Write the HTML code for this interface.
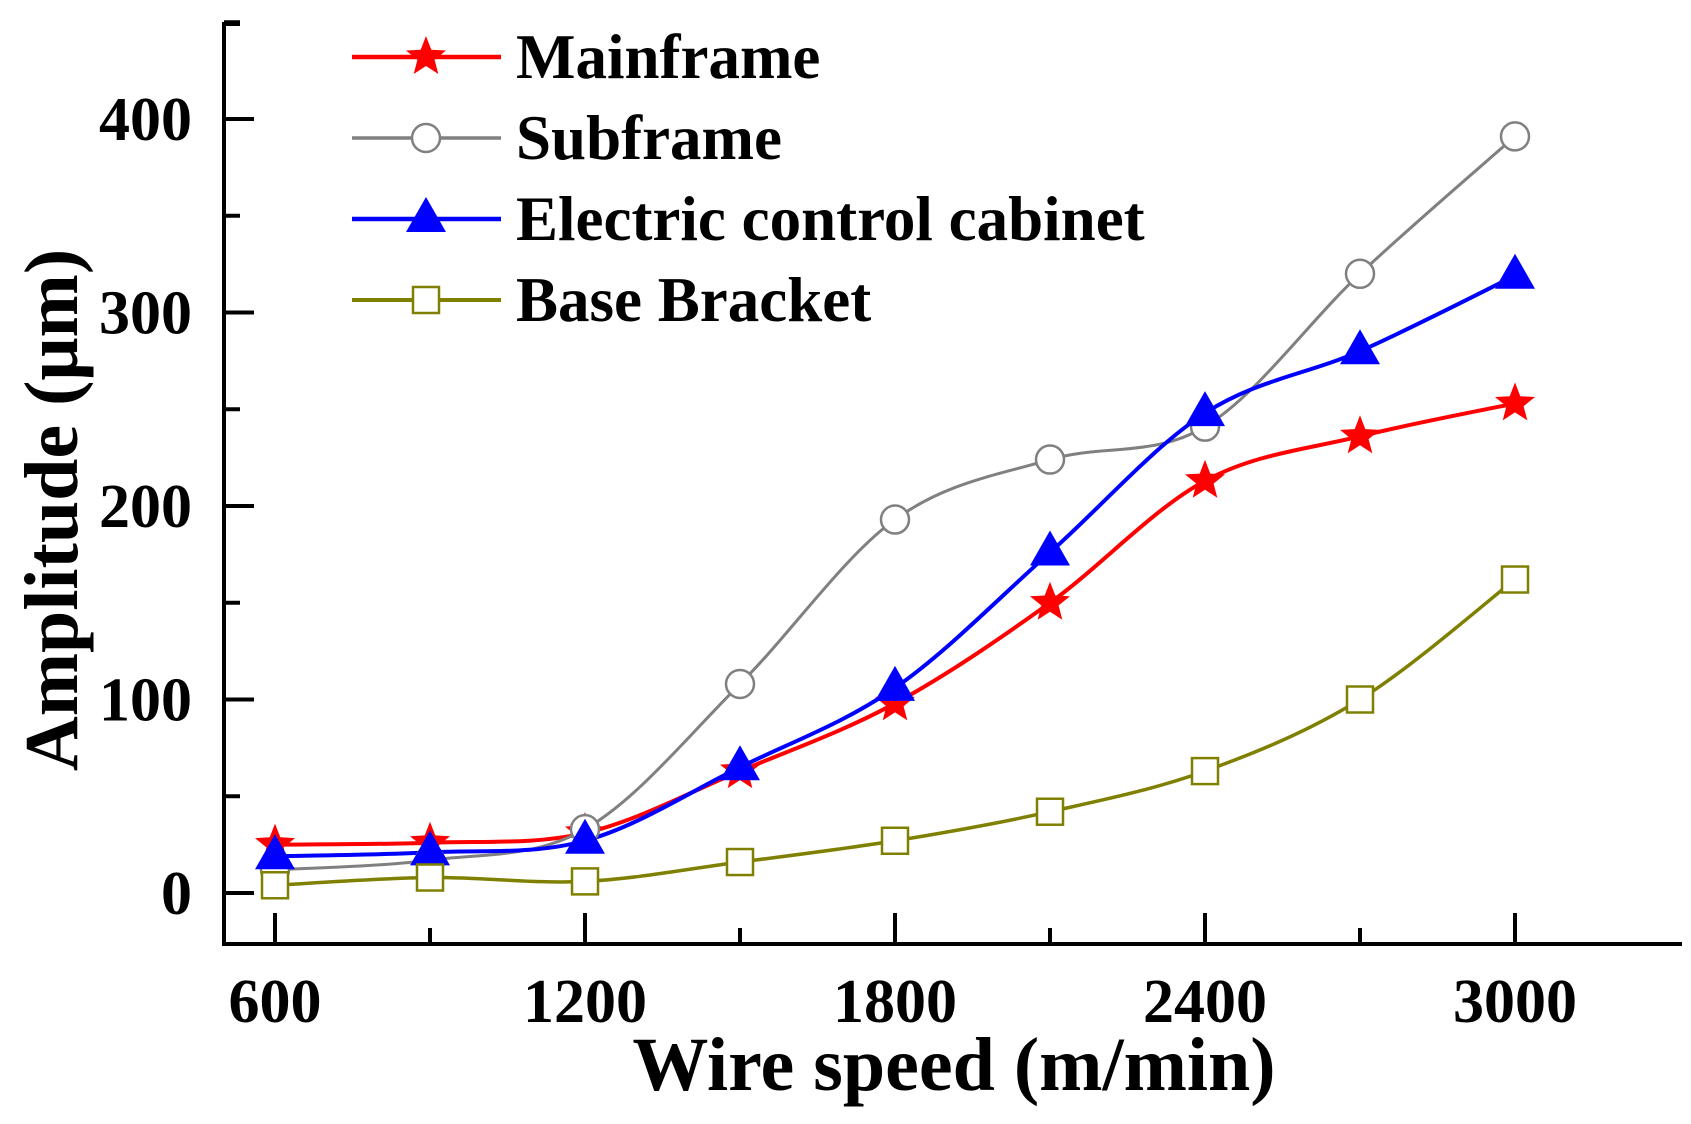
<!DOCTYPE html>
<html><head><meta charset="utf-8"><style>
html,body{margin:0;padding:0;background:#fff;}
svg{display:block;font-family:"Liberation Serif",serif;font-weight:bold;}
</style></head><body>
<svg id="s" width="1691" height="1124" viewBox="0 0 1691 1124" xmlns="http://www.w3.org/2000/svg">
<rect width="1691" height="1124" fill="#fff"/>
<g id="axes" stroke="#000" stroke-width="4" fill="none">
<path d="M224,22 L224,944 L1682,944"/>
<path d="M224,24 L240,24"/>
</g>
<g id="lab" fill="#000"></g>
<g id="series"></g>
<text x="954" y="1090" font-size="76" text-anchor="middle" fill="#000">Wire speed (m/min)</text>
<text transform="translate(77,510) rotate(-90)" font-size="76" text-anchor="middle" fill="#000">Amplitude (μm)</text>
</svg>
<script>
var NS="http://www.w3.org/2000/svg";
function X(v){return 275+(v-600)/300*155;}
function Y(v){return 893-v*1.935;}
function el(t,a,p){var e=document.createElementNS(NS,t);for(var k in a)e.setAttribute(k,a[k]);p.appendChild(e);return e;}
var ax=document.getElementById('axes'),lab=document.getElementById('lab'),ser=document.getElementById('series');
// y ticks
for(var v=0;v<=450;v+=50){var y=Y(v);if(y<22)continue;var L=(v%100==0)?30:16;el('path',{d:'M224,'+y+' L'+(224+L)+','+y},ax);
 if(v%100==0){var t=el('text',{x:192,y:y+21,'font-size':62,'text-anchor':'end'},lab);t.textContent=v;}}
// x ticks
for(var v=600;v<=3000;v+=300){var x=X(v);var L=((v-600)%600==0)?31:16;el('path',{d:'M'+x+',944 L'+x+','+(944-L)},ax);
 if((v-600)%600==0){var t=el('text',{x:x,y:1022,'font-size':62,'text-anchor':'middle'},lab);t.textContent=v;}}
var xs=[600,900,1200,1500,1800,2100,2400,2700,3000];
var S=[
 {c:'#ff0000',w:4,m:'star',d:[25,26,31,63,98,150,213,236,253],n:'Mainframe'},
 {c:'#808080',w:3,m:'circle',d:[12,17,33,108,193,224,241,320,391],n:'Subframe'},
 {c:'#0000ff',w:4,m:'tri',d:[19,21,27,65,106,176,248,280,319],n:'Electric control cabinet'},
 {c:'#808000',w:3.5,m:'square',d:[4,8,6,16,27,42,63,100,162],n:'Base Bracket'}
];
function spline(p){var d='M'+p[0][0]+','+p[0][1];for(var i=0;i<p.length-1;i++){var p0=p[i-1]||p[i],p1=p[i],p2=p[i+1],p3=p[i+2]||p2;
 d+=' C'+(p1[0]+(p2[0]-p0[0])/6)+','+(p1[1]+(p2[1]-p0[1])/6)+' '+(p2[0]-(p3[0]-p1[0])/6)+','+(p2[1]-(p3[1]-p1[1])/6)+' '+p2[0]+','+p2[1];}return d;}
function marker(m,x,y,c,p){
 if(m=='star'){var pts=[];for(var i=0;i<10;i++){var r=i%2?9:21,a=-Math.PI/2+i*Math.PI/5;pts.push((x+r*Math.cos(a)).toFixed(1)+','+(y+r*Math.sin(a)).toFixed(1));}
  el('polygon',{points:pts.join(' '),fill:c},p);}
 else if(m=='circle')el('circle',{cx:x,cy:y,r:14,fill:'#fff',stroke:c,'stroke-width':2.5},p);
 else if(m=='tri')el('polygon',{points:x+','+(y-22)+' '+(x-20)+','+(y+13)+' '+(x+20)+','+(y+13),fill:c},p);
 else el('rect',{x:x-13,y:y-13,width:26,height:26,fill:'#fff',stroke:c,'stroke-width':2.5},p);
}
S.forEach(function(s){var p=xs.map(function(v,i){return [X(v),Y(s.d[i])];});
 el('path',{d:spline(p),fill:'none',stroke:s.c,'stroke-width':s.w},ser);});
S.forEach(function(s){xs.forEach(function(v,i){marker(s.m,X(v),Y(s.d[i]),s.c,ser);});});
// legend
var ly=[57,138,219,300];
S.forEach(function(s,i){el('path',{d:'M352,'+ly[i]+' L501,'+ly[i],stroke:s.c,'stroke-width':s.w+0.5},ser);
 marker(s.m,426,ly[i],s.c,ser);
 var t=el('text',{x:516,y:ly[i]+21,'font-size':63,fill:'#000'},lab);t.textContent=s.n;});
</script>
</body></html>
